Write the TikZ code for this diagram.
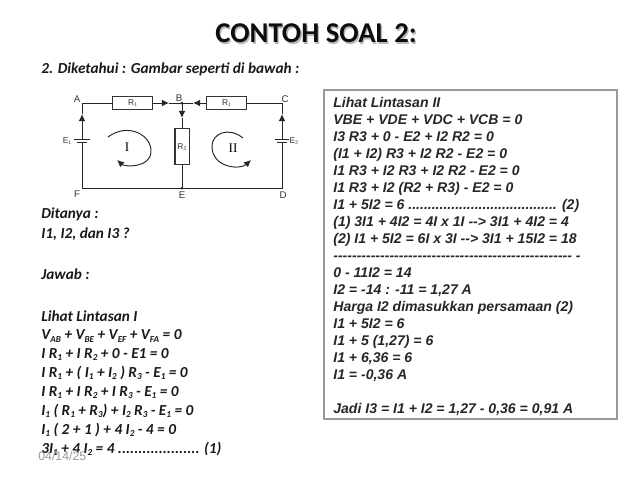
\documentclass[tikz,border=0pt]{standalone}
\usepackage{fontspec}
\setmainfont{Carlito}
\newfontfamily\arialfont{Liberation Sans}
\newfontfamily\serifont{Liberation Serif}
\usetikzlibrary{arrows.meta}
\newcommand{\sbs}[1]{\raisebox{-0.35ex}{\fontsize{5.2}{6}\selectfont #1}}
\tikzset{
  lefttext/.style={anchor=base west,yshift=-0.08cm,inner sep=0pt,font=\fontsize{8.7}{11}\selectfont\bfseries\itshape,color=black!90},
  boxtext/.style={anchor=base west,yshift=-0.09cm,inner sep=0pt,font=\fontsize{8}{10}\selectfont\arialfont\bfseries\itshape,color=black!85},
  circlabel/.style={inner sep=0pt,font=\fontsize{4.8}{6}\selectfont\arialfont,color=black!80},
  nodelabel/.style={circlabel,font=\fontsize{5.5}{6}\selectfont\arialfont},
  loopnum/.style={inner sep=0pt,font=\fontsize{7.5}{9}\selectfont\serifont},
  resistor/.style={draw=black!80,line width=0.6pt,fill=white,inner sep=0pt},
  wire/.style={line width=0.55pt,black!85},
  tipwire/.style={wire,-{Latex[length=4pt,width=3.8pt]}},
  plate/.style={line width=0.55pt,black!85},
}
\begin{document}
\begin{tikzpicture}[x=0.02cm,y=-0.02cm]
\useasboundingbox (0,0) rectangle (638,478);

% title
\node[inner sep=0pt,color=black!28,font=\fontsize{16.3}{18}\selectfont\bfseries] (titleshadow) at (317.4,35) {CONTOH SOAL 2:};
\node[inner sep=0pt,font=\fontsize{16.3}{18}\selectfont\bfseries,color=black!95] (title) at (316,33.6) {CONTOH SOAL 2:};

% left column
\node[lefttext] (soal) at (41,69) {2. Diketahui : Gambar seperti di bawah :};
\node[lefttext] (ditanya) at (41,214) {Ditanya :};
\node[lefttext] (arus) at (41,234) {I1, I2, dan I3 ?};
\node[lefttext] (jawab) at (41,275) {Jawab :};
\node[lefttext] (lintasanI) at (41,317) {Lihat Lintasan I};
\node[lefttext] (eqa) at (41,335.5) {V\sbs{AB} + V\sbs{BE} + V\sbs{EF} + V\sbs{FA} = 0};
\node[lefttext] (eqb) at (41,354) {I R\sbs{1} + I R\sbs{2} + 0 - E1 = 0};
\node[lefttext] (eqc) at (41,373) {I R\sbs{1} + ( I\sbs{1} + I\sbs{2} ) R\sbs{3} - E\sbs{1} = 0};
\node[lefttext] (eqd) at (41,392) {I R\sbs{1} + I R\sbs{2} + I R\sbs{3} - E\sbs{1} = 0};
\node[lefttext] (eqe) at (41,411) {I\sbs{1} ( R\sbs{1} + R\sbs{3}) + I\sbs{2} R\sbs{3} - E\sbs{1} = 0};
\node[lefttext] (eqf) at (41,430) {I\sbs{1} ( 2 + 1 ) + 4 I\sbs{2} - 4 = 0};
\node[lefttext] (eqg) at (41,449) {3I\sbs{1} + 4 I\sbs{2} = 4 .................... (1)};
\node[anchor=west,inner sep=0pt,color=black!40,font=\fontsize{7}{8}\selectfont\arialfont] (tanggal) at (38,456) {04/14/25};

% circuit
\coordinate (A) at (82,103);
\coordinate (B) at (182,103);
\coordinate (C) at (282,103);
\coordinate (D) at (282,188);
\coordinate (E) at (182,188);
\coordinate (F) at (82,188);
\node[resistor,minimum width=23.2pt,minimum height=7pt] (Ra) at (132.5,103) {};
\node[resistor,minimum width=23.2pt,minimum height=7pt] (Rb) at (226.5,103) {};
\node[resistor,minimum width=8pt,minimum height=20pt] (Rc) at (182,146.5) {};
\node[circlabel] (Ralabel) at (Ra) {R₁};
\node[circlabel] (Rblabel) at (Rb) {R₁};
\node[circlabel] (Rclabel) at (Rc) {R₂};
\coordinate (tipa) at (169,103);
\coordinate (tipb) at (193,103);
\coordinate (tipc) at (182,118);
\coordinate (tipd) at (82,114);
\coordinate (tipe) at (282,114);
\coordinate (Eatop) at (82,139);
\coordinate (Eabot) at (82,142.5);
\coordinate (Ebtop) at (282,139);
\coordinate (Ebbot) at (282,142.5);

\draw[tipwire] (Ra.east) -- (tipa);
\draw[wire] (tipa) -- (B);
\draw[tipwire] (Rb.west) -- (tipb);
\draw[wire] (tipb) -- (B);
\draw[tipwire] (B) -- (tipc);
\draw[wire] (tipc) -- (Rc.north);
\draw[wire] (Rc.south) -- (E);
\draw[wire] (A) -- (Ra.west);
\draw[wire] (C) -- (Rb.east);
\draw[tipwire] (Eatop) -- (tipd);
\draw[wire] (tipd) -- (A);
\draw[tipwire] (Ebtop) -- (tipe);
\draw[wire] (tipe) -- (C);
\draw[wire] (Eabot) -- (F) -- (D) -- (Ebbot);
\draw[plate] (74,139) -- (90,139);
\draw[plate,line width=0.9pt] (77,142.5) -- (87,142.5);
\draw[plate] (275,139) -- (289,139);
\draw[plate,line width=0.9pt] (277,142.5) -- (287,142.5);
\fill[black!85] (B) circle[radius=1.5];
\fill[black!85] (E) circle[radius=1.5];

\node[nodelabel] (labA) at (77,99) {A};
\node[nodelabel] (labB) at (179,98) {B};
\node[nodelabel] (labC) at (285,99) {C};
\node[nodelabel] (labD) at (283,195) {D};
\node[nodelabel] (labE) at (182,195) {E};
\node[nodelabel] (labF) at (77,194) {F};
\node[circlabel] (labEa) at (67,141) {E₁};
\node[circlabel] (labEb) at (294,141) {E₂};

% loops
\draw[tipwire] (108,137) .. controls (128,122) and (152,135) .. (151,152) .. controls (150,168) and (125,167) .. (117,160);
\draw[tipwire] (243,138) .. controls (228,126) and (212,134) .. (212,146) .. controls (212,168) and (240,170) .. (251,160);
\node[loopnum] (loopI) at (127,147) {I};
\node[loopnum] (loopII) at (233,148) {II};

% box on the right
\draw[color=black!40,line width=0.6pt] (324,90) rectangle (617,419);
\foreach \y/\isi in {103/{Lihat Lintasan II},
  120/{VBE + VDE + VDC + VCB = 0},
  137/{I3 R3 + 0 - E2 + I2 R2 = 0},
  154/{(I1 + I2) R3 + I2 R2 - E2 = 0},
  171/{I1 R3 + I2 R3 + I2 R2 - E2 = 0},
  188/{I1 R3 + I2 (R2 + R3) - E2 = 0},
  205/{I1 + 5I2 = 6 ...................................... (2)},
  222/{(1) 3I1 + 4I2 = 4I x 1I --> 3I1 + 4I2 = 4},
  239/{(2) I1 + 5I2 = 6I x 3I --> 3I1 + 15I2 = 18},
  256/{--------------------------------------------------- -},
  273/{0 - 11I2 = 14},
  290/{I2 = -14 : -11 = 1,27 A},
  307/{Harga I2 dimasukkan persamaan (2)},
  324/{I1 + 5I2 = 6},
  341/{I1 + 5 (1,27) = 6},
  358/{I1 + 6,36 = 6},
  375/{I1 = -0,36 A},
  409/{Jadi I3 = I1 + I2 = 1,27 - 0,36 = 0,91 A}}
  \node[boxtext] (baris\y) at (333,\y) {\isi};

\end{tikzpicture}
\end{document}
